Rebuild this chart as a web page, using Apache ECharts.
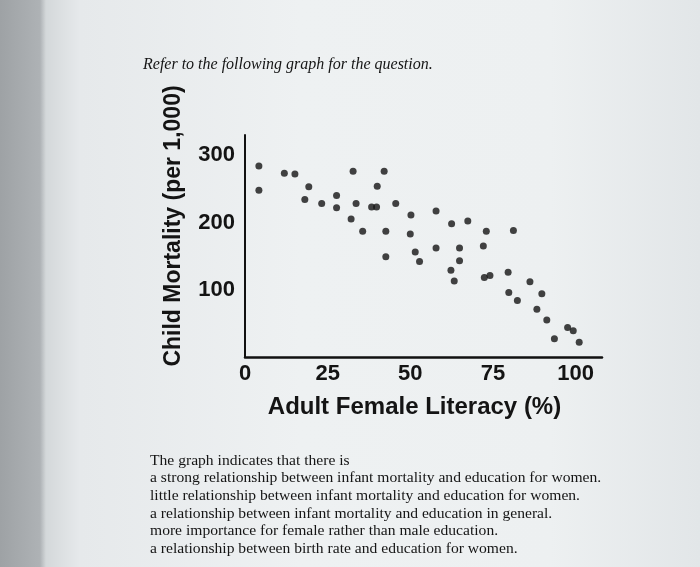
<!DOCTYPE html>
<html>
<head>
<meta charset="utf-8">
<script src="https://cdn.jsdelivr.net/npm/echarts@6/dist/echarts.min.js"></script>
<style>
  html, body { margin: 0; padding: 0; }
  body {
    width: 700px; height: 567px; overflow: hidden;
    background: linear-gradient(90deg, #9ea2a5 0px, #aeb2b5 40px, #d4d8da 46px, #e6e9eb 80px, #eef1f2 300px, #edf0f1 550px, #e2e6e8 700px);
  }
  #chart { width: 700px; height: 567px; }
</style>
</head>
<body>
<div id="chart"></div>
<script>
const literacy = [4.2, 4.2, 11.9, 15.1, 19.3, 18.1, 23.2, 27.7, 27.7, 32.7, 33.6, 32.1, 35.6, 38.3, 39.8, 40.0,
  42.1, 45.6, 42.6, 42.6, 50.2, 50.0, 51.5, 52.8, 57.8, 57.8, 62.5, 67.4, 73.0, 81.2, 64.9, 72.1,
  64.9, 62.3, 63.3, 72.4, 74.1, 79.6, 86.2, 79.8, 82.4, 89.8, 88.3, 91.3, 97.6, 99.3, 93.6, 101.1];
const mortality = [284, 248, 273, 272, 253, 234, 228, 240, 222, 276, 228, 205, 187, 223, 223, 254,
  276, 228, 187, 149, 211, 183, 156, 142, 217, 162, 198, 202, 187, 188, 162, 165,
  143, 129, 113, 118, 121, 126, 112, 96, 84, 94, 71, 55, 44, 39, 27, 22];
const xTicks = [0, 25, 50, 75, 100];
const yTicks = [100, 200, 300];
const titleText = 'Refer to the following graph for the question.';
const questionLines = [
  'The graph indicates that there is',
  'a strong relationship between infant mortality and education for women.',
  'little relationship between infant mortality and education for women.',
  'a relationship between infant mortality and education in general.',
  'more importance for female rather than male education.',
  'a relationship between birth rate and education for women.'
];

const points = literacy.map((x, i) => [x, mortality[i]]);
const sans = '"Liberation Sans", Arial, sans-serif';
const chart = echarts.init(document.getElementById('chart'));
chart.setOption({
  backgroundColor: 'transparent',
  animation: false,
  grid: { left: 245, top: 135, width: 357, height: 222, containLabel: false },
  xAxis: {
    type: 'value', min: 0, max: 108, interval: 25,
    name: 'Adult Female Literacy (%)', nameLocation: 'middle', nameGap: 38,
    nameTextStyle: { color: '#141414', fontSize: 24, fontWeight: 'bold', fontFamily: sans, padding: [0, 18, 0, 0] },
    axisLine: { show: true, lineStyle: { color: '#111', width: 2.5 } },
    axisTick: { show: false }, splitLine: { show: false },
    axisLabel: {
      color: '#141414', fontSize: 22, fontWeight: 'bold', fontFamily: sans, margin: 6,
      formatter: v => xTicks.includes(v) ? String(v) : ''
    }
  },
  yAxis: {
    type: 'value', min: 0, max: 330, interval: 100,
    name: 'Child Mortality (per 1,000)', nameLocation: 'middle', nameGap: 60, nameRotate: 90,
    nameTextStyle: { color: '#141414', fontSize: 23, fontWeight: 'bold', fontFamily: sans, padding: [0, 0, 0, 40] },
    axisLine: { show: true, lineStyle: { color: '#111', width: 2 } },
    axisTick: { show: false }, splitLine: { show: false },
    axisLabel: {
      color: '#141414', fontSize: 22, fontWeight: 'bold', fontFamily: sans, margin: 10,
      formatter: v => yTicks.includes(v) ? String(v) : ''
    }
  },
  series: [{
    type: 'scatter', data: points, symbolSize: 7,
    itemStyle: { color: '#141414' }
  }],
  graphic: [
    { type: 'text', left: 143, top: 57,
      style: { text: titleText, fill: '#151515', font: 'italic 16px "Liberation Serif", "Times New Roman", serif' } },
    { type: 'text', left: 150, top: 452,
      style: { text: questionLines.join('\n'), fill: '#151515', lineHeight: 17.6,
        font: '15.6px "Liberation Serif", "Times New Roman", serif' } }
  ]
});
</script>
</body>
</html>
